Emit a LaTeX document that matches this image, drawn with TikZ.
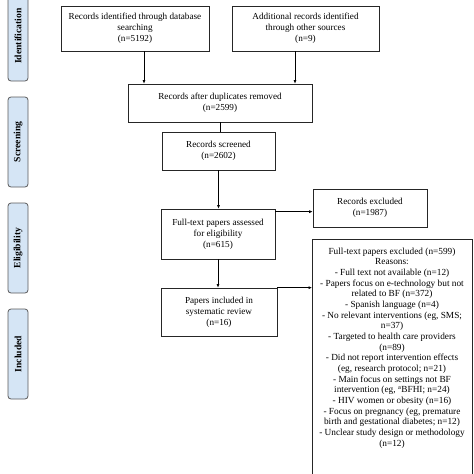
\documentclass[tikz,border=0pt]{standalone}
\usepackage{fontspec}
\setmainfont{Liberation Serif}
\usetikzlibrary{arrows.meta,calc}
\definecolor{sidefill}{HTML}{D5E5F5}
\definecolor{sidedraw}{HTML}{5A5A5A}
\begin{document}
\begin{tikzpicture}[x=1pt,y=-1pt,
  box/.style={draw=black!85,line width=0.7pt,inner sep=0pt,align=center,font=\fontsize{9.2}{10.8}\selectfont},
  txt/.style={inner sep=0pt,align=center,font=\fontsize{9.3}{10.67}\selectfont},
  side/.style={draw=sidedraw,fill=sidefill,line width=0.8pt,rounded corners=3pt,minimum width=20pt,minimum height=90pt,inner sep=0pt},
  sidelabel/.style={rotate=90,font=\fontsize{9.6}{10}\selectfont\bfseries,inner sep=0pt},
  arr/.style={line width=0.6pt,-{Latex[length=3.5pt,width=3pt]}},
  ln/.style={line width=0.6pt}]
\useasboundingbox (0,0) rectangle (474,474);
% sidebars
\node[side] (s1) at (18,36) {};
\node[sidelabel] (l1) at (s1.center) {Identification};
\node[side] (s2) at (18,142) {};
\node[sidelabel] (l2) at (s2.center) {Screening};
\node[side] (s3) at (18,248) {};
\node[sidelabel] (l3) at (s3.center) {Eligibility};
\node[side] (s4) at (18,354) {};
\node[sidelabel] (l4) at (s4.center) {Included};
% boxes
\node[box,minimum width=148pt,minimum height=45pt] (b1) at (135,28.5) {Records identified through database\\searching\\(n=5192)};
\node[box,minimum width=147pt,minimum height=45pt] (b2) at (305.5,28.5) {Additional records identified\\through other sources\\(n=9)};
\node[box,minimum width=184pt,minimum height=38pt] (b3) at (220,103) {Records after duplicates removed\\(n=2599)};
\node[box,minimum width=113pt,minimum height=38pt] (b4) at (218.5,151) {Records screened\\(n=2602)};
\node[box,minimum width=114pt,minimum height=50pt] (b5) at (218,234) {Full-text papers assessed\\for eligibility\\(n=615)};
\node[box,minimum width=114pt,minimum height=38pt] (b6x) at (370,208) {Records excluded\\(n=1987)};
\node[box,minimum width=116pt,minimum height=48pt] (b6) at (219,312) {Papers included in\\systematic review\\(n=16)};
\node[box,anchor=north west,minimum width=160pt,minimum height=242pt] (b7) at (312,239) {};
\node[txt] (b7t) at (392,348) {Full-text papers excluded (n=599)\\Reasons:\\- Full text not available (n=12)\\- Papers focus on e-technology but not\\related to BF (n=372)\\- Spanish language (n=4)\\- No relevant interventions (eg, SMS;\\n=37)\\- Targeted to health care providers\\(n=89)\\- Did not report intervention effects\\(eg, research protocol; n=21)\\- Main focus on settings not BF\\intervention (eg, \textsuperscript{a}BFHI; n=24)\\- HIV women or obesity (n=16)\\- Focus on pregnancy (eg, premature\\birth and gestational diabetes; n=12)\\- Unclear study design or methodology\\(n=12)};
% connectors
\path (b1.south) ++(9,0) coordinate (t1);
\path (b2.south) ++(-10.5,0) coordinate (t2);
\draw[arr] (t1) -- (t1 |- b3.north);
\draw[arr] (t2) -- (t2 |- b3.north);
\draw[ln] (b3.south) -- (b3.south |- b4.north);
\draw[arr] (b4.south) -- (b4.south |- b5.north);
\path (b5.north east) ++(0,3) coordinate (t5);
\draw[arr] (t5) -- (t5 -| b6x.west);
\draw[arr] (b5.south) -- (b5.south |- b6.north);
\draw[arr] (b6.north east) -- (b6.north east -| b7.west);
\end{tikzpicture}
\end{document}
